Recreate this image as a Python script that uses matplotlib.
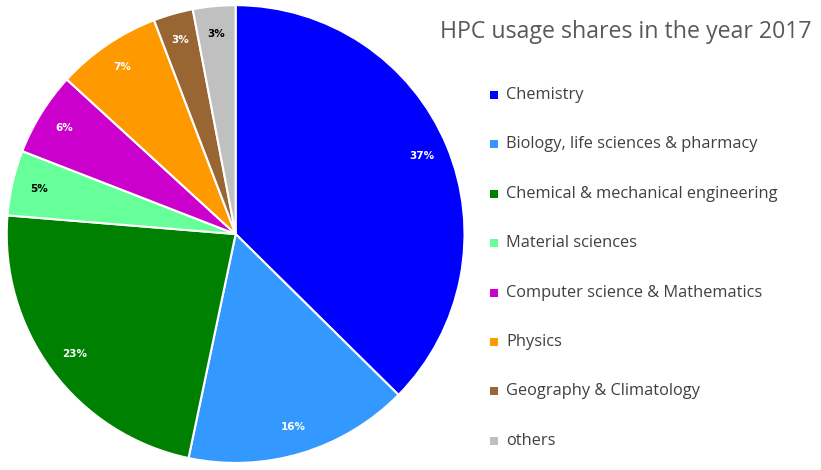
import matplotlib
matplotlib.use("Agg")
import matplotlib.pyplot as plt
from matplotlib.patches import Rectangle

categories = ["Chemistry", "Biology, life sciences & pharmacy", "Chemical & mechanical engineering",
              "Material sciences", "Computer science & Mathematics", "Physics",
              "Geography & Climatology", "others"]
values = [37.4, 15.9, 23.0, 4.6, 5.9, 7.4, 2.8, 3.0]
labels = ["37%", "16%", "23%", "5%", "6%", "7%", "3%", "3%"]
colors = ["#0000FF", "#3399FF", "#008000", "#66FF99", "#CC00CC", "#FF9900", "#996633", "#C0C0C0"]
label_colors = ["white", "white", "white", "black", "white", "white", "white", "black"]

fig = plt.figure(figsize=(8.21, 4.7), dpi=100)
ax = fig.add_axes([0.008, 0.015, 0.558, 0.974])
wedges, texts = ax.pie(values, colors=colors, startangle=90, counterclock=False,
                       labels=labels, labeldistance=0.88,
                       wedgeprops=dict(edgecolor="white", linewidth=1.5))
for t, c in zip(texts, label_colors):
    t.set_color(c)
    t.set_fontsize(7.5)
    t.set_fontweight("bold")
    t.set_ha("center")
    t.set_va("center")
ax.set_xlim(-1.0, 1.0)
ax.set_ylim(-1.0, 1.0)
ax.set_aspect("equal")

fig.text(626/821, 1 - 32/470, "HPC usage shares in the year 2017", ha="center", va="center",
         fontsize=16.7, color="#595959", family="Open Sans")
for i, cat in enumerate(categories):
    y = 1 - (95 + i * 49.4) / 470
    fig.patches.append(Rectangle((490/821, y - 4/470), 8/821, 8/470, transform=fig.transFigure,
                                 facecolor=colors[i], edgecolor="none"))
    fig.text(506/821, y, cat, ha="left", va="center", fontsize=11.8, color="#404040",
             family="Open Sans")

fig.savefig("out.png", dpi=100)
